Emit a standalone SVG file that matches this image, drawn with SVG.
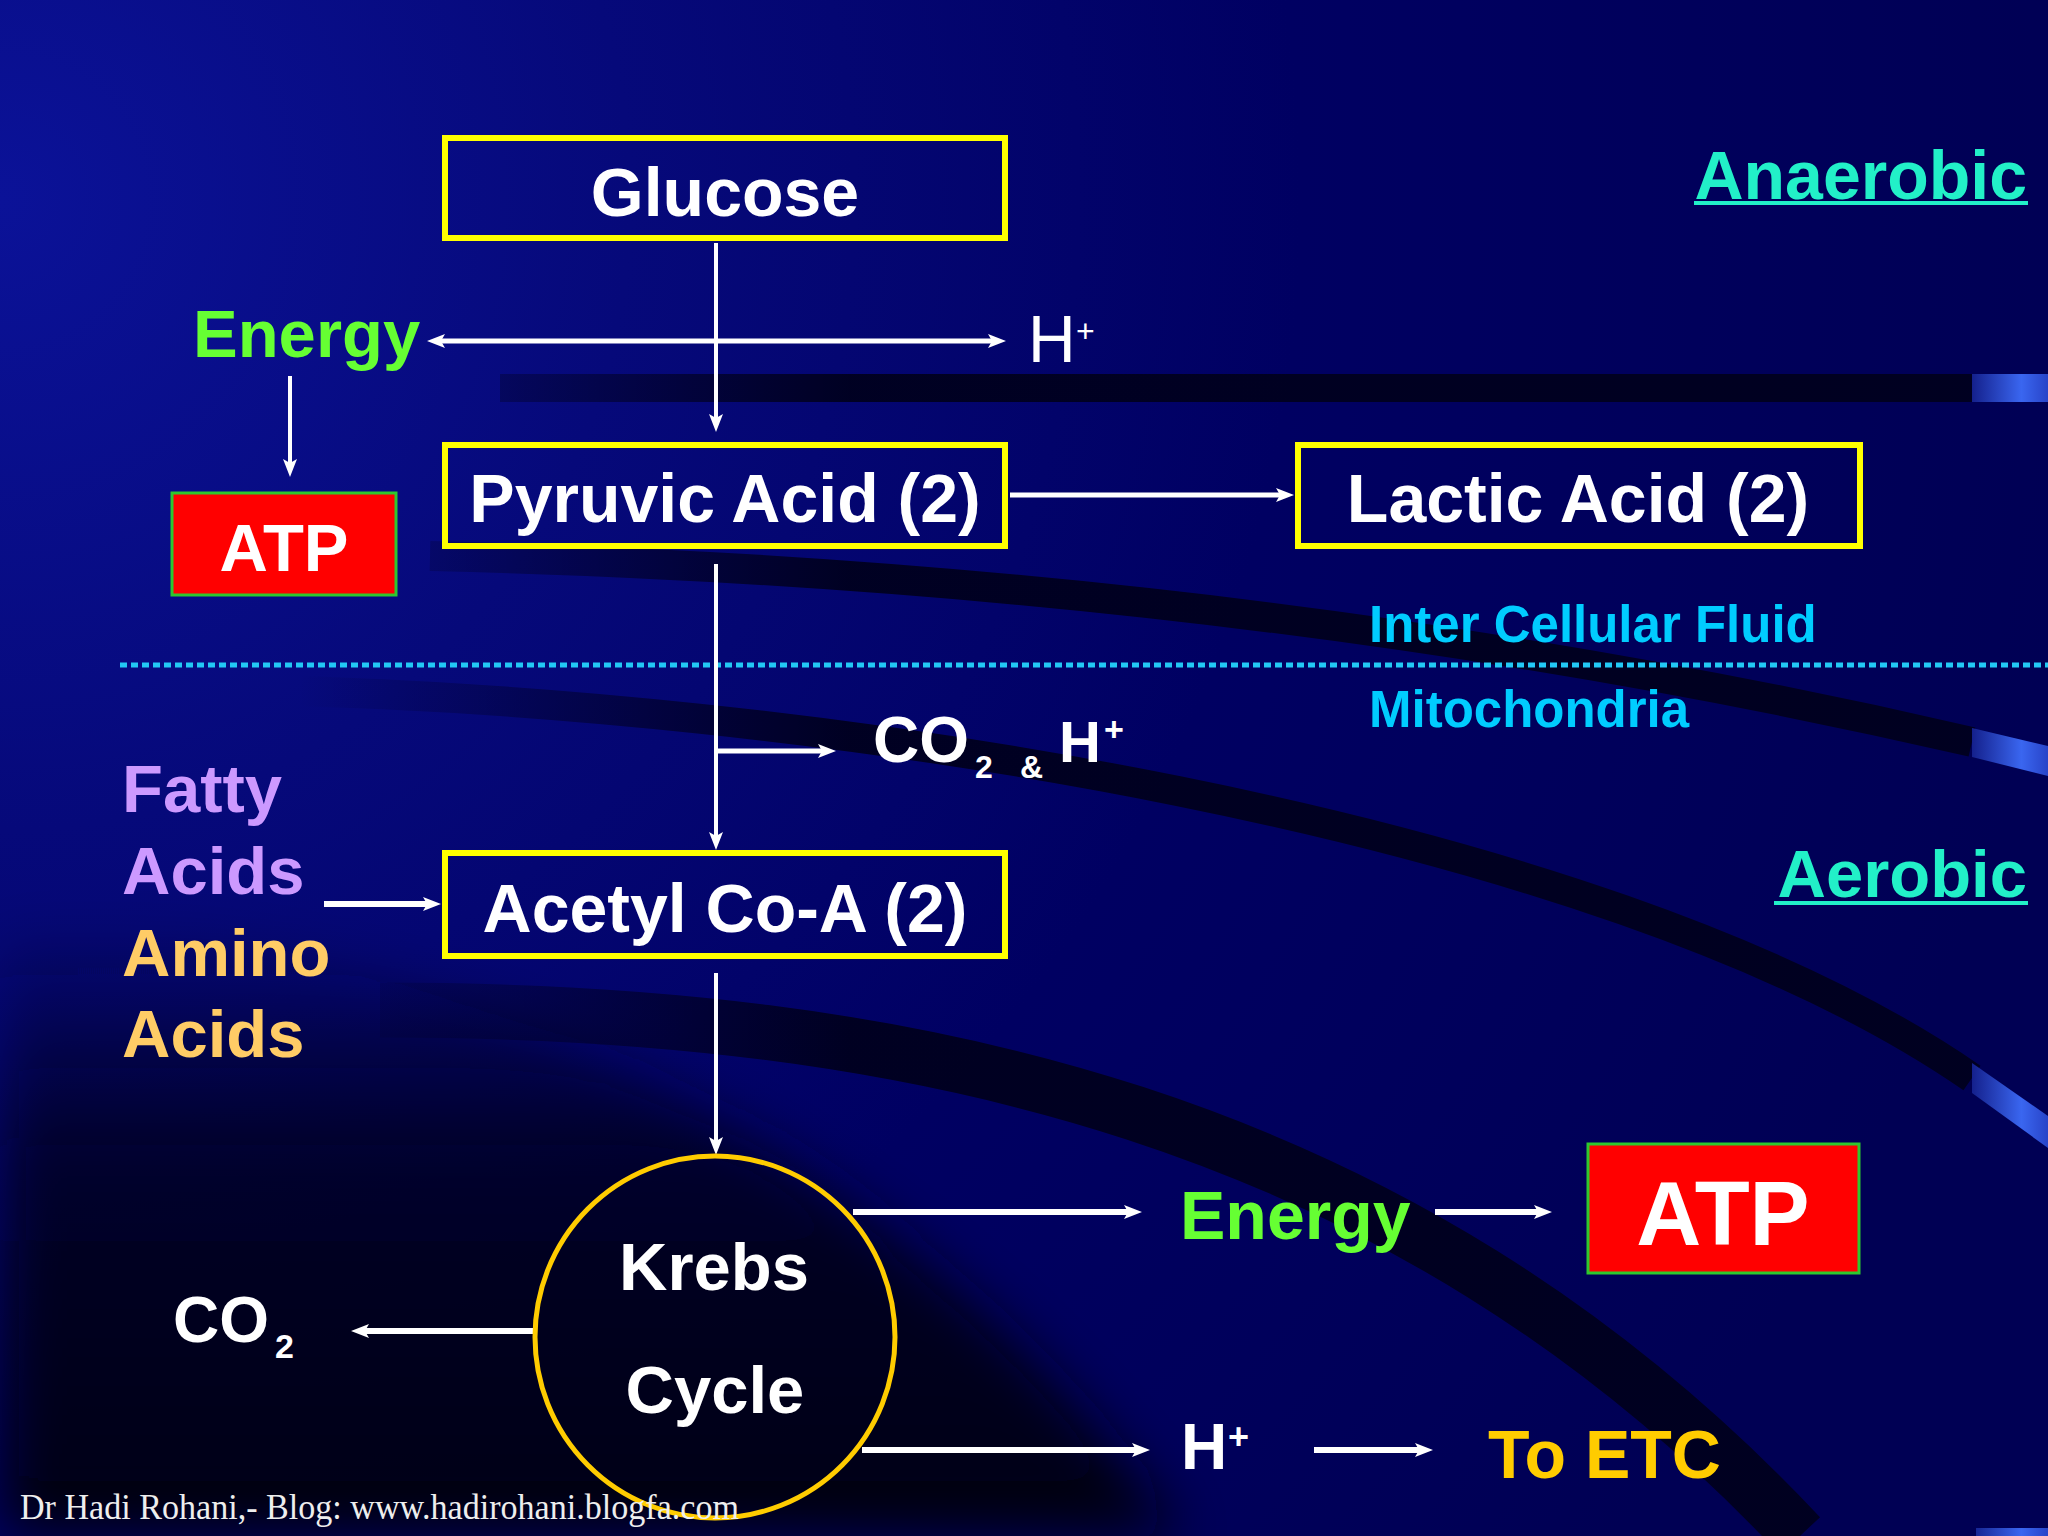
<svg xmlns="http://www.w3.org/2000/svg" width="2048" height="1536" viewBox="0 0 2048 1536">
<defs>
<style>
.box{fill:none;stroke:#FFFF00;stroke-width:6}
.atp{fill:#FF0000;stroke:#2EC82E;stroke-width:3}
.t{font-family:"Liberation Sans",Arial,sans-serif;font-weight:bold;fill:#FFFFFF}
.r{font-family:"Liberation Sans",Arial,sans-serif;font-weight:normal;fill:#FFFFFF}
.c{text-anchor:middle}
.e{text-anchor:end}
.ln{stroke:#FFFFFF;fill:none;marker-end:url(#ah)}
.band{fill:none;stroke:url(#bandFade)}
.tab{fill:url(#tab)}
.green{fill:#66FF33}
.teal{fill:#22F0C8}
.cyan{fill:#00CCFF}
.purple{fill:#CC99FF}
.orange{fill:#FFCC66}
.gold{fill:#FFCC00}
</style>
<radialGradient id="bgGrad" cx="0" cy="200" r="2100" gradientUnits="userSpaceOnUse">
<stop offset="0" stop-color="#0B1298"/>
<stop offset="0.3" stop-color="#06097A"/>
<stop offset="0.62" stop-color="#000062"/>
<stop offset="1" stop-color="#000054"/>
</radialGradient>
<linearGradient id="darkBL" x1="0" y1="920" x2="0" y2="1536" gradientUnits="userSpaceOnUse">
<stop offset="0" stop-color="#02021A" stop-opacity="0"/>
<stop offset="0.4" stop-color="#02031E" stop-opacity="0.85"/>
<stop offset="1" stop-color="#020210" stop-opacity="1"/>
</linearGradient>
<filter id="blur" x="-20%" y="-20%" width="140%" height="140%"><feGaussianBlur stdDeviation="28"/></filter>
<linearGradient id="bandFade" x1="300" y1="0" x2="850" y2="0" gradientUnits="userSpaceOnUse">
<stop offset="0" stop-color="#00001C" stop-opacity="0"/>
<stop offset="1" stop-color="#00001C" stop-opacity="0.92"/>
</linearGradient>
<linearGradient id="tab" x1="1972" y1="0" x2="2048" y2="0" gradientUnits="userSpaceOnUse">
<stop offset="0" stop-color="#14208C"/>
<stop offset="0.65" stop-color="#3A66F0"/>
<stop offset="1" stop-color="#2844C8"/>
</linearGradient>
<marker id="ah" viewBox="0 0 18 14" markerWidth="18" markerHeight="14" refX="10" refY="7" orient="auto-start-reverse" markerUnits="userSpaceOnUse">
<path d="M0,0 L18,7 L0,14 L4,7 Z" fill="#FFFFFF"/>
</marker>
</defs>

<g id="background">
<rect x="0" y="0" width="2048" height="1536" fill="url(#bgGrad)"/>
<path d="M0 900 C 500 960, 900 1150, 1180 1536 L0 1536 Z" fill="url(#darkBL)" filter="url(#blur)"/>
<path class="band" d="M500 388 L1972 388" stroke-width="28"/>
<path class="band" d="M430 556 Q 1250 575 1972 742" stroke-width="30"/>
<path class="band" d="M250 690 C 800 700, 1600 820, 1972 1078" stroke-width="30"/>
<path class="band" d="M380 1010 C 900 1010, 1400 1110, 1800 1536" stroke-width="55"/>
<rect class="tab" x="1972" y="374" width="76" height="28"/>
<polygon class="tab" points="1972,728 2048,746 2048,776 1972,757"/>
<polygon class="tab" points="1972,1063 2048,1116 2048,1148 1972,1093"/>
<rect class="tab" x="1976" y="1528" width="72" height="8"/>
</g>

<g id="divider">
<line x1="120" y1="665" x2="2048" y2="665" stroke="#22C8F5" stroke-width="5" stroke-dasharray="7 4"/>
</g>

<g id="connectors">
<line class="ln" x1="716" y1="243" x2="716" y2="424" stroke-width="4"/>
<line class="ln" x1="435" y1="341" x2="998" y2="341" stroke-width="5" marker-start="url(#ah)"/>
<line class="ln" x1="290" y1="376" x2="290" y2="469" stroke-width="4"/>
<line class="ln" x1="1010" y1="495" x2="1286" y2="495" stroke-width="5"/>
<line class="ln" x1="716" y1="564" x2="716" y2="842" stroke-width="4"/>
<line class="ln" x1="716" y1="751" x2="828" y2="751" stroke-width="5"/>
<line class="ln" x1="324" y1="904" x2="433" y2="904" stroke-width="6"/>
<line class="ln" x1="716" y1="973" x2="716" y2="1147" stroke-width="4"/>
<line class="ln" x1="535" y1="1331" x2="359" y2="1331" stroke-width="6"/>
<line class="ln" x1="853" y1="1212" x2="1134" y2="1212" stroke-width="6"/>
<line class="ln" x1="1435" y1="1212" x2="1544" y2="1212" stroke-width="6"/>
<line class="ln" x1="862" y1="1450" x2="1142" y2="1450" stroke-width="6"/>
<line class="ln" x1="1314" y1="1450" x2="1425" y2="1450" stroke-width="6"/>
</g>

<g id="glucose">
<rect class="box" x="445" y="138" width="560" height="100"/>
<text class="t c" x="725" y="216" font-size="68">Glucose</text>
</g>

<g id="energy-top">
<text class="t green" x="193" y="357" font-size="67">Energy</text>
</g>

<g id="h-top">
<text class="r" x="1028" y="362" font-size="66">H</text>
<text class="r" x="1076" y="342" font-size="32">+</text>
</g>

<g id="atp-top">
<rect class="atp" x="172" y="493" width="224" height="102"/>
<text class="t c" x="284" y="571" font-size="67">ATP</text>
</g>

<g id="pyruvic">
<rect class="box" x="445" y="445" width="560" height="101"/>
<text class="t c" x="725" y="522" font-size="68">Pyruvic Acid (2)</text>
</g>

<g id="lactic">
<rect class="box" x="1298" y="445" width="562" height="101"/>
<text class="t c" x="1578" y="522" font-size="68">Lactic Acid (2)</text>
</g>

<g id="anaerobic">
<text class="t e teal" x="2027" y="199" font-size="68">Anaerobic</text>
<rect x="1694" y="201" width="334" height="4" fill="#22F0C8"/>
</g>

<g id="icf">
<text class="t cyan" x="1369" y="642" font-size="51">Inter Cellular Fluid</text>
</g>

<g id="mito">
<text class="t cyan" x="1369" y="727" font-size="51">Mitochondria</text>
</g>

<g id="co2-h-mid">
<text class="t" x="873" y="762" font-size="64">CO</text>
<text class="t" x="975" y="778" font-size="32">2</text>
<text class="t" x="1020" y="778" font-size="32">&amp;</text>
<text class="t" x="1059" y="762" font-size="58">H</text>
<text class="t" x="1104" y="741" font-size="34">+</text>
</g>

<g id="fatty-amino">
<text class="t purple" x="122" y="812" font-size="67">Fatty</text>
<text class="t purple" x="122" y="894" font-size="67">Acids</text>
<text class="t orange" x="122" y="976" font-size="67">Amino</text>
<text class="t orange" x="122" y="1057" font-size="67">Acids</text>
</g>

<g id="acetyl">
<rect class="box" x="445" y="853" width="560" height="103"/>
<text class="t c" x="725" y="932" font-size="68">Acetyl Co-A (2)</text>
</g>

<g id="aerobic">
<text class="t e teal" x="2027" y="897" font-size="67">Aerobic</text>
<rect x="1774" y="901" width="254" height="4" fill="#22F0C8"/>
</g>

<g id="krebs">
<ellipse cx="715" cy="1337" rx="180" ry="181" fill="none" stroke="#FFCC00" stroke-width="5"/>
<text class="t c" x="714" y="1290" font-size="67">Krebs</text>
<text class="t c" x="715" y="1413" font-size="67">Cycle</text>
</g>

<g id="co2-bottom">
<text class="t" x="173" y="1342" font-size="64">CO</text>
<text class="t" x="275" y="1358" font-size="34">2</text>
</g>

<g id="energy-bottom">
<text class="t green" x="1180" y="1239" font-size="68">Energy</text>
</g>

<g id="atp-bottom">
<rect class="atp" x="1588" y="1144" width="271" height="129"/>
<text class="t c" x="1723" y="1245" font-size="90">ATP</text>
</g>

<g id="h-bottom">
<text class="t" x="1181" y="1469" font-size="64">H</text>
<text class="t" x="1228" y="1449" font-size="36">+</text>
</g>

<g id="to-etc">
<text class="t gold" x="1488" y="1478" font-size="68">To ETC</text>
</g>

<g id="footer">
<text x="20" y="1519" font-family="'Liberation Serif','Times New Roman',serif" font-size="36" fill="#EEEEEE" textLength="719" lengthAdjust="spacingAndGlyphs">Dr Hadi Rohani,- Blog: www.hadirohani.blogfa.com</text>
</g>
</svg>
